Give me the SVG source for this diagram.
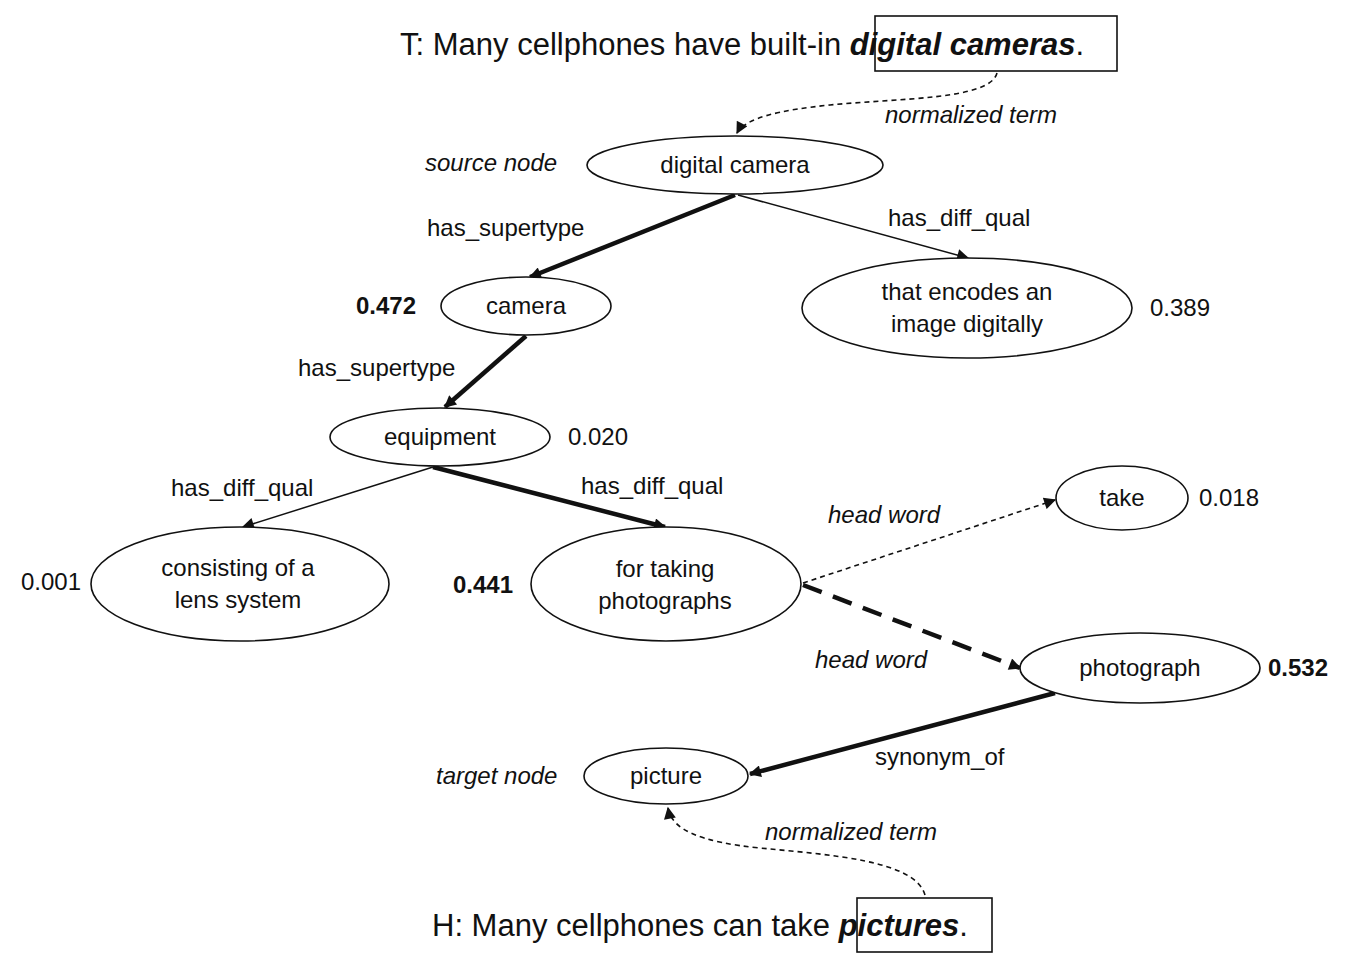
<svg xmlns="http://www.w3.org/2000/svg" width="1356" height="978" viewBox="0 0 1356 978">
<style>
text{font-family:"Liberation Sans",Arial,sans-serif;font-size:24px;fill:#111}
.big{font-size:31px}
.it{font-style:italic}
.b{font-weight:bold}
.m{text-anchor:middle}
ellipse{fill:#fff;stroke:#111;stroke-width:1.6}
.thick{stroke:#111;stroke-width:4.5;fill:none}
.thin{stroke:#111;stroke-width:1.5;fill:none}
.dot{stroke:#111;stroke-width:1.6;fill:none;stroke-dasharray:5,4}
.dash{stroke:#111;stroke-width:4.5;fill:none;stroke-dasharray:20,12}
</style>
<defs>
<marker id="a" viewBox="0 0 10 10" refX="9" refY="5" markerWidth="16" markerHeight="12" markerUnits="userSpaceOnUse" orient="auto"><path d="M0,0L10,5L0,10z" fill="#111"/></marker>
</defs>
<g id="sentenceT"><text class="big" x="400" y="55">T: Many cellphones have built-in <tspan class="it b">digital cameras</tspan>.</text><rect x="875" y="16" width="242" height="55" fill="none" stroke="#111" stroke-width="1.6"/></g>
<g id="sentenceH"><text class="big" x="432" y="936">H: Many cellphones can take <tspan class="it b">pictures</tspan>.</text><rect x="857" y="898" width="135" height="54" fill="none" stroke="#111" stroke-width="1.6"/></g>
<g id="connectors">
<path class="dot" d="M997,73 C990,100 900,98 830,105 C780,110 745,118 737,133" marker-end="url(#a)"/>
<path class="dot" d="M925,895 C915,860 830,855 760,848 C700,842 672,830 668,808" marker-end="url(#a)"/>
<line class="thick" x1="735" y1="195" x2="530" y2="277" marker-end="url(#a)"/>
<line class="thin" x1="738" y1="195" x2="968" y2="258" marker-end="url(#a)"/>
<line class="thick" x1="526" y1="336" x2="445" y2="407" marker-end="url(#a)"/>
<line class="thin" x1="433" y1="467" x2="243" y2="527" marker-end="url(#a)"/>
<line class="thick" x1="433" y1="467" x2="665" y2="527" marker-end="url(#a)"/>
<line class="dot" x1="803" y1="583" x2="1055" y2="500" marker-end="url(#a)"/>
<line class="dash" x1="803" y1="585" x2="1020" y2="668" marker-end="url(#a)"/>
<line class="thick" x1="1055" y1="693" x2="750" y2="774" marker-end="url(#a)"/>
</g>
<g id="labels">
<text class="it" x="885" y="123">normalized term</text>
<text class="it" x="765" y="840">normalized term</text>
<text class="it" x="425" y="171">source node</text>
<text class="it" x="436" y="784">target node</text>
<text x="427" y="236">has_supertype</text>
<text x="888" y="226">has_diff_qual</text>
<text x="298" y="376">has_supertype</text>
<text x="171" y="496">has_diff_qual</text>
<text x="581" y="494">has_diff_qual</text>
<text class="it" x="828" y="523">head word</text>
<text class="it" x="815" y="668">head word</text>
<text x="875" y="765">synonym_of</text>
</g>
<g id="n-digitalcamera"><ellipse cx="735" cy="165" rx="148" ry="29"/><text class="m" x="735" y="173">digital camera</text></g>
<g id="n-camera"><ellipse cx="526" cy="306" rx="85" ry="29"/><text class="m" x="526" y="314">camera</text><text class="b" x="356" y="314">0.472</text></g>
<g id="n-encodes"><ellipse cx="967" cy="308" rx="165" ry="50"/><text class="m" x="967" y="300">that encodes an</text><text class="m" x="967" y="332">image digitally</text><text x="1150" y="316">0.389</text></g>
<g id="n-equipment"><ellipse cx="440" cy="437" rx="110" ry="29"/><text class="m" x="440" y="445">equipment</text><text x="568" y="445">0.020</text></g>
<g id="n-consisting"><ellipse cx="240" cy="584" rx="149" ry="57"/><text class="m" x="238" y="576">consisting of a</text><text class="m" x="238" y="608">lens system</text><text x="21" y="590">0.001</text></g>
<g id="n-fortaking"><ellipse cx="666" cy="584" rx="135" ry="57"/><text class="m" x="665" y="577">for taking</text><text class="m" x="665" y="609">photographs</text><text class="b" x="453" y="593">0.441</text></g>
<g id="n-take"><ellipse cx="1122" cy="498" rx="66" ry="32"/><text class="m" x="1122" y="506">take</text><text x="1199" y="506">0.018</text></g>
<g id="n-photograph"><ellipse cx="1140" cy="668" rx="120" ry="35"/><text class="m" x="1140" y="676">photograph</text><text class="b" x="1268" y="676">0.532</text></g>
<g id="n-picture"><ellipse cx="666" cy="776" rx="82" ry="28"/><text class="m" x="666" y="784">picture</text></g>
</svg>
